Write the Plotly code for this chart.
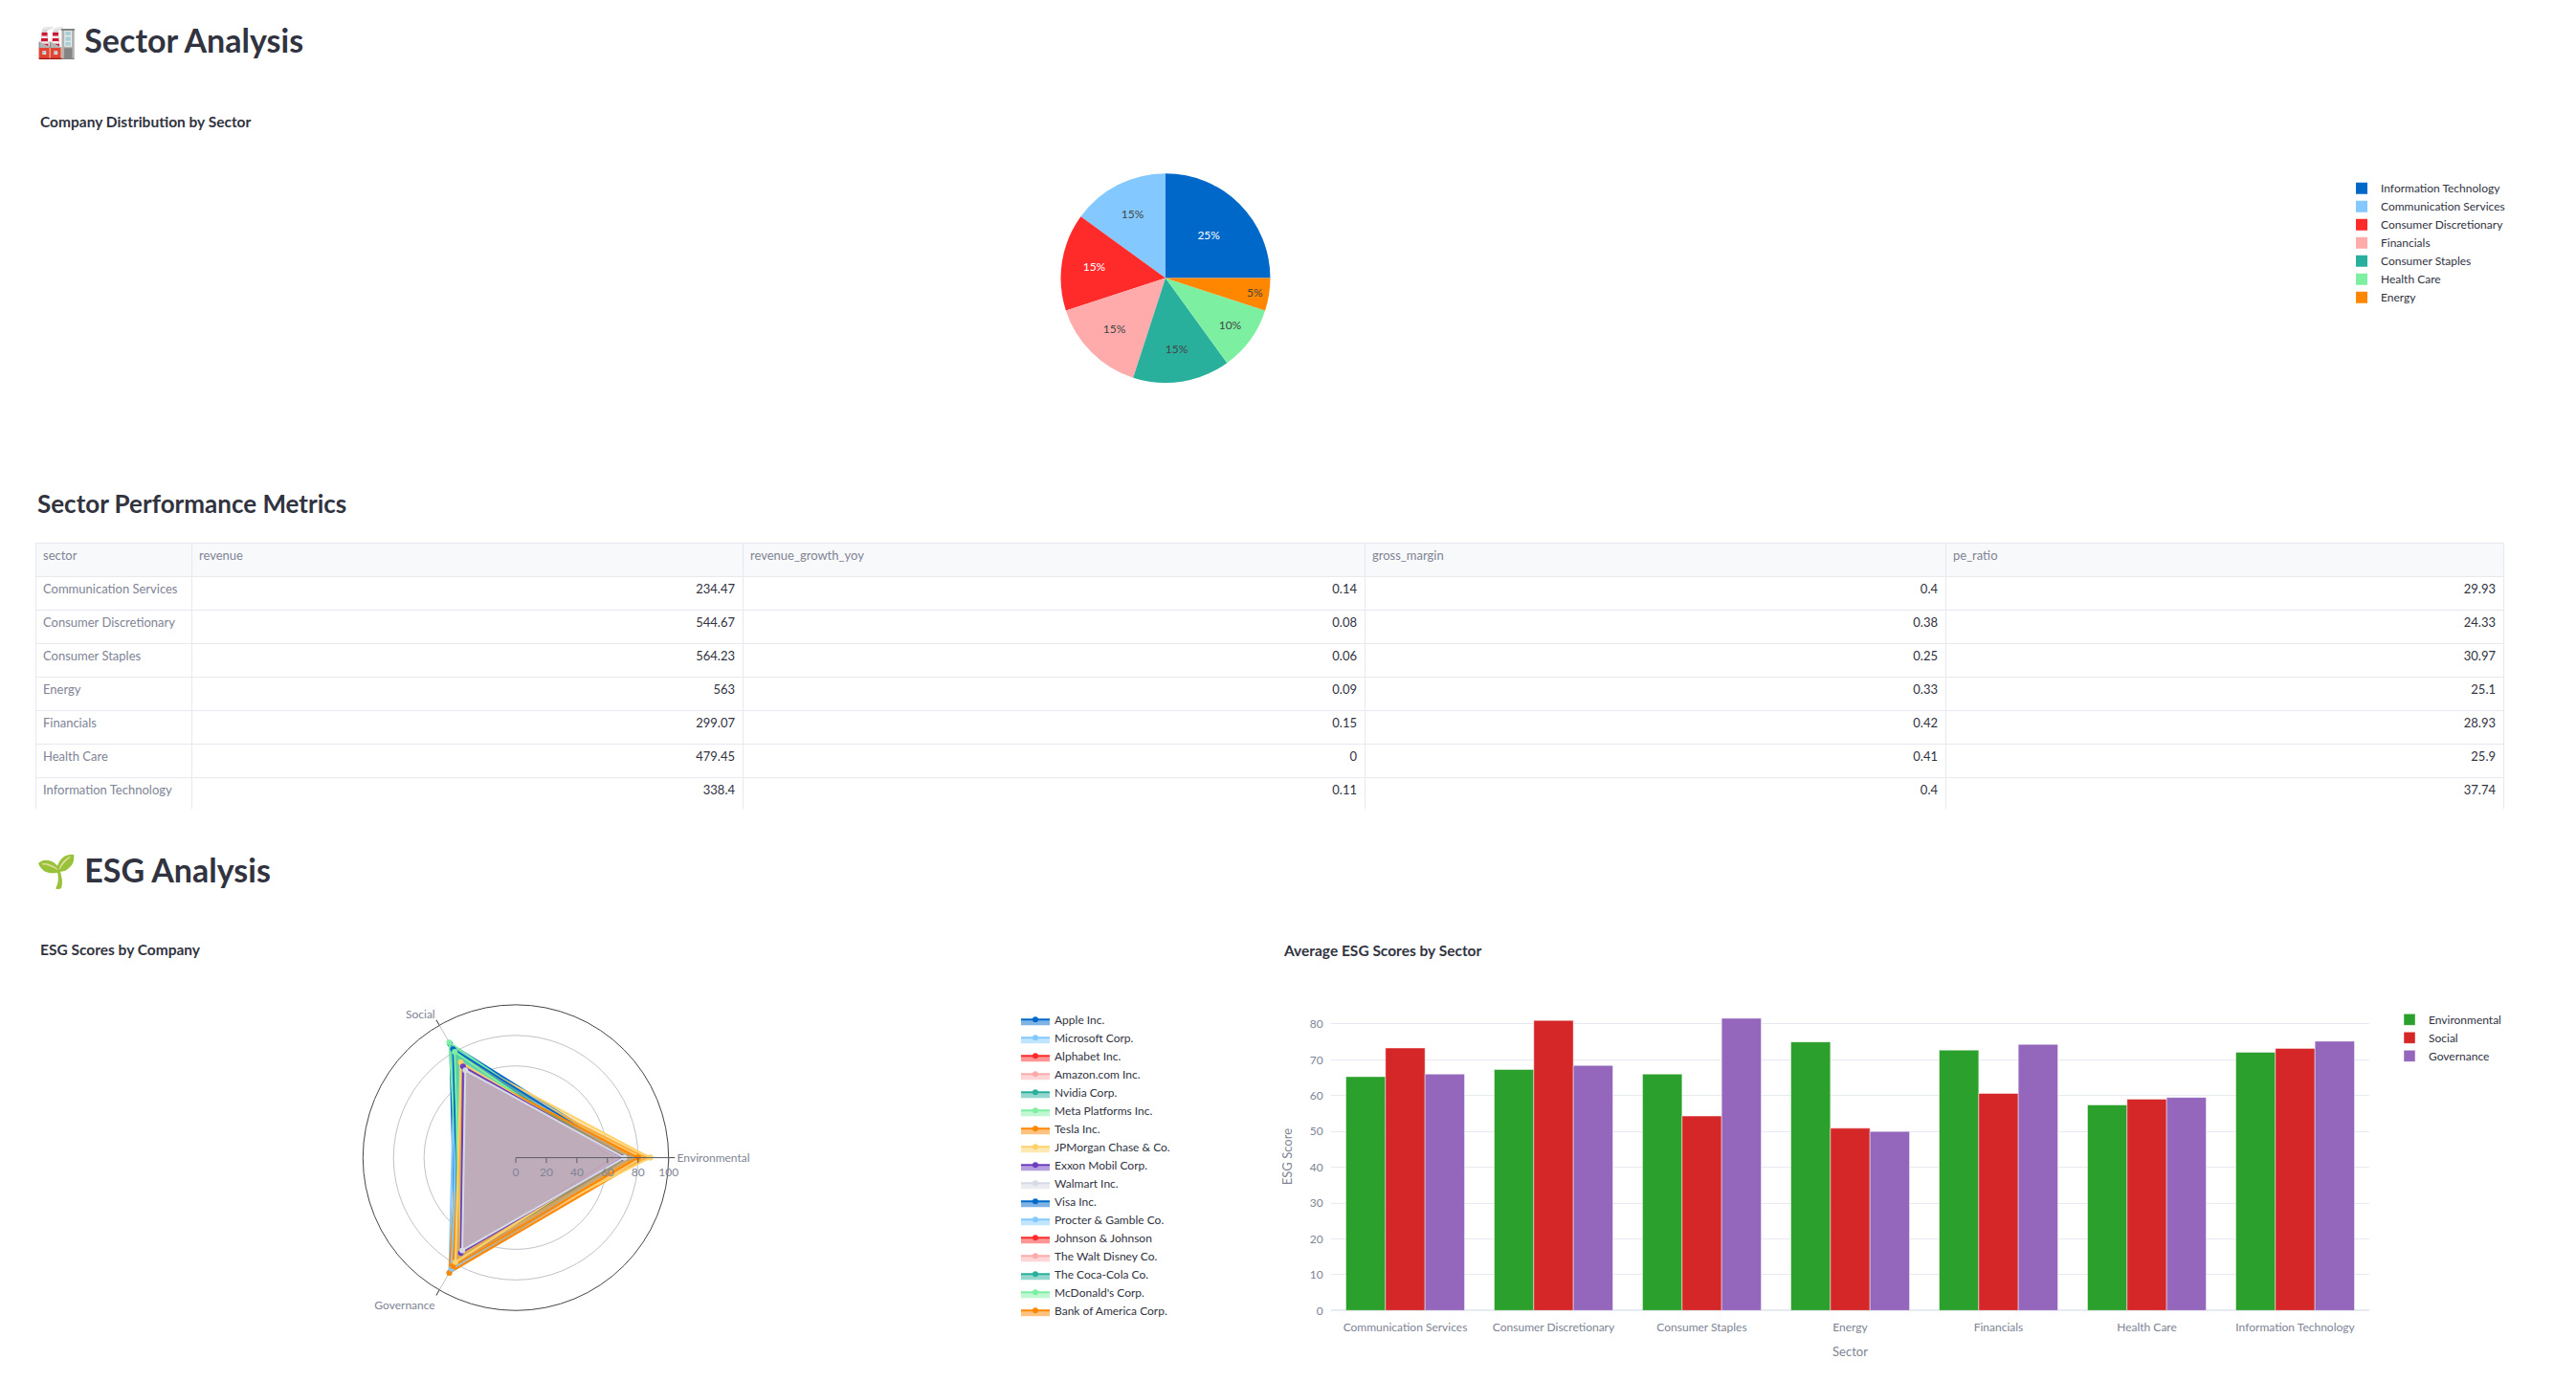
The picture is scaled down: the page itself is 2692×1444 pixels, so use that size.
import sys
import plotly.graph_objects as go

# the page body keeps its default 8px margin, so the figure is 16px smaller
fig_width = 2676
fig_height = 1428

# company count per sector (pie)
pie_sectors = ["Information Technology", "Communication Services",
               "Consumer Discretionary", "Financials", "Consumer Staples",
               "Health Care", "Energy"]
pie_counts = [5, 3, 3, 3, 3, 2, 1]

# sector performance metrics (table)
table_columns = ["sector", "revenue", "revenue_growth_yoy", "gross_margin",
                 "pe_ratio"]
table_sectors = ["Communication Services", "Consumer Discretionary",
                 "Consumer Staples", "Energy", "Financials", "Health Care",
                 "Information Technology"]
table_revenue = [234.47, 544.67, 564.23, 563, 299.07, 479.45, 338.4]
table_growth = [0.14, 0.08, 0.06, 0.09, 0.15, 0, 0.11]
table_margin = [0.4, 0.38, 0.25, 0.33, 0.42, 0.41, 0.4]
table_pe = [29.93, 24.33, 30.97, 25.1, 28.93, 25.9, 37.74]

# ESG scores by company (radar)
esg_categories = ["Environmental", "Social", "Governance"]
companies = ["Apple Inc.", "Microsoft Corp.", "Alphabet Inc.",
             "Amazon.com Inc.", "Nvidia Corp.", "Meta Platforms Inc.",
             "Tesla Inc.", "JPMorgan Chase & Co.", "Exxon Mobil Corp.",
             "Walmart Inc.", "Visa Inc.", "Procter & Gamble Co.",
             "Johnson & Johnson", "The Walt Disney Co.", "The Coca-Cola Co.",
             "McDonald's Corp.", "Bank of America Corp.", "Pfizer Inc.",
             "Oracle Corp.", "Wells Fargo & Co."]
esg_environmental = [76, 78, 70, 62, 74, 66, 85, 88, 72, 54,
                     73, 75, 64, 60, 69, 61, 80, 67, 70, 71]
esg_social = [86, 80, 76, 66, 79, 87, 70, 78, 73, 63,
              82, 74, 71, 64, 77, 80, 68, 72, 69, 66]
esg_governance = [79, 87, 74, 68, 77, 71, 87, 73, 70, 61,
                  75, 84, 76, 66, 78, 72, 82, 79, 72, 70]
n_legend_companies = 17  # the rest is scrolled out of view in the legend

# average ESG scores by sector (bars)
bar_sectors = ["Communication Services", "Consumer Discretionary",
               "Consumer Staples", "Energy", "Financials", "Health Care",
               "Information Technology"]
avg_environmental = [65.3, 67.3, 66.0, 75.0, 72.7, 57.4, 72.1]
avg_social = [73.3, 81.0, 54.3, 50.9, 60.6, 59.0, 73.2]
avg_governance = [66.0, 68.4, 81.6, 50.0, 74.3, 59.5, 75.2]

palette = ["#0068c9", "#83c9ff", "#ff2b2b", "#ffabab", "#29b09d",
           "#7defa1", "#ff8700", "#ffd16a", "#6d3fc0", "#d5dae5"]
esg_colors = ["#2ca02c", "#d62728", "#9467bd"]

text_dark = "#31333f"
text_grey = "#808495"
font_family = "Lato, sans-serif"


def px_x(x):
    return (x - 8) / fig_width


def px_y(y):
    return 1 - (y - 8) / fig_height


def add_text(fig, x, y, text, size, weight=700):
    fig.add_annotation(x=px_x(x), y=px_y(y), xref="paper", yref="paper",
                       text=text, showarrow=False, xanchor="left",
                       yanchor="middle",
                       font=dict(size=size, color=text_dark, weight=weight,
                                 family=font_family))


def main(argv):
    fig = go.Figure()

    # pie
    fig.add_trace(go.Pie(labels=pie_sectors, values=pie_counts, sort=False,
                         marker=dict(colors=palette[:len(pie_sectors)]),
                         textinfo="percent", insidetextorientation="horizontal",
                         textfont=dict(size=12),
                         domain=dict(x=[px_x(1108), px_x(1328)],
                                     y=[px_y(402), px_y(182)]),
                         legend="legend"))

    # table
    fig.add_trace(go.Table(
        domain=dict(x=[px_x(37), px_x(2616)], y=[px_y(850), px_y(570)]),
        columnwidth=[163, 576, 650, 607, 583],
        header=dict(values=table_columns, fill_color="#f8f9fb",
                    line=dict(color="#e6e9ef", width=1), align="left",
                    height=35,
                    font=dict(size=13, color=text_grey, family=font_family)),
        cells=dict(values=[table_sectors, table_revenue, table_growth,
                           table_margin, table_pe],
                   fill_color="white", line=dict(color="#e6e9ef", width=1),
                   align=["left", "right", "right", "right", "right"],
                   height=35,
                   font=dict(size=13, family=font_family,
                             color=[text_grey, text_dark, text_dark,
                                    text_dark, text_dark]))))

    # radar, one closed polygon per company
    for i, name in enumerate(companies):
        color = palette[i % len(palette)]
        r = [esg_environmental[i], esg_social[i], esg_governance[i],
             esg_environmental[i]]
        theta = esg_categories + esg_categories[:1]
        fig.add_trace(go.Scatterpolar(r=r, theta=theta, name=name,
                                      mode="lines+markers", fill="toself",
                                      line=dict(color=color, width=2),
                                      marker=dict(size=6),
                                      showlegend=i < n_legend_companies,
                                      legend="legend2"))

    # grouped bars
    for name, values, color in zip(esg_categories,
                                   [avg_environmental, avg_social,
                                    avg_governance], esg_colors):
        fig.add_trace(go.Bar(x=bar_sectors, y=values, name=name,
                             marker=dict(color=color,
                                         line=dict(width=1,
                                                   color="rgba(255,255,255,0.45)")),
                             legend="legend3"))

    legend_font = dict(size=12, color=text_dark, family=font_family)
    fig.update_layout(
        width=fig_width, height=fig_height,
        margin=dict(l=0, r=0, t=0, b=0),
        paper_bgcolor="white", plot_bgcolor="white",
        font=dict(family=font_family, color=text_grey, size=12),
        barmode="group",
        legend=dict(x=px_x(2448), y=px_y(183), xanchor="left",
                    yanchor="top", font=legend_font, bgcolor="rgba(0,0,0,0)"),
        legend2=dict(x=px_x(1062), y=px_y(1056), xanchor="left",
                     yanchor="top", font=legend_font,
                     bgcolor="rgba(0,0,0,0)"),
        legend3=dict(x=px_x(2498), y=px_y(1056), xanchor="left",
                     yanchor="top", font=legend_font,
                     bgcolor="rgba(0,0,0,0)"),
        polar=dict(
            domain=dict(x=[px_x(378), px_x(700)], y=[px_y(1376), px_y(1055)]),
            bgcolor="white",
            radialaxis=dict(range=[0, 100], tickvals=[0, 20, 40, 60, 80, 100],
                            ticks="outside", ticklen=5, showline=True,
                            linecolor="#5c5f66", tickcolor="#5c5f66",
                            gridcolor="#bfc2c8",
                            tickfont=dict(size=12, color=text_grey)),
            angularaxis=dict(ticks="outside", ticklen=6, showline=True,
                             linecolor="#444444", tickcolor="#444444",
                             gridcolor="#bfc2c8",
                             tickfont=dict(size=12, color=text_grey)),
        ),
        xaxis=dict(domain=[px_x(1391), px_x(2476)], anchor="y",
                   title=dict(text="Sector", font=dict(size=13)),
                   ticks="outside", ticklen=6, tickcolor="rgba(0,0,0,0)",
                   tickfont=dict(size=12), showgrid=False),
        yaxis=dict(domain=[px_y(1376), px_y(1053)], anchor="x",
                   title=dict(text="ESG Score", font=dict(size=13)),
                   ticks="outside", ticklen=5, tickcolor="rgba(0,0,0,0)",
                   dtick=10, gridcolor="#e6eaf1", zerolinecolor="#e6eaf1",
                   tickfont=dict(size=12)),
    )

    # page headings and chart titles
    add_text(fig, 36, 42, "🏭 Sector Analysis", 34)
    add_text(fig, 40, 128, "Company Distribution by Sector", 15.5)
    add_text(fig, 37, 529, "Sector Performance Metrics", 26)
    add_text(fig, 36, 913, "🌱 ESG Analysis", 34)
    add_text(fig, 40, 997, "ESG Scores by Company", 15.5)
    add_text(fig, 1339, 998, "Average ESG Scores by Sector", 15.5)

    fig.write_html("out.html")


if __name__ == "__main__":
    main(sys.argv)
